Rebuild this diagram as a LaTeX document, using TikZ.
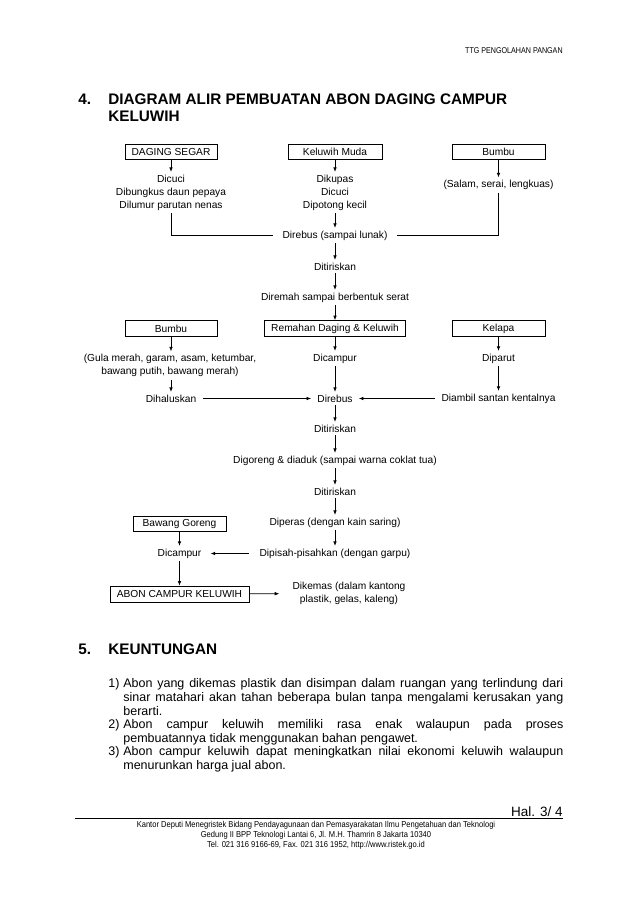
\documentclass[tikz,border=0pt]{standalone}
\usepackage{fontspec}
\setmainfont{Liberation Sans}
\newfontfamily\narrowfont[FakeStretch=0.85]{Liberation Sans}
\newfontfamily\footnarrow[FakeStretch=0.88]{Liberation Sans}
\usetikzlibrary{arrows.meta,positioning}

\newcommand{\flowfont}{\fontsize{10.2}{13}\selectfont}
\newcommand{\bodyfont}{\fontsize{12.5}{13.6}\selectfont}
\newcommand{\headfont}{\bfseries\fontsize{15.3}{17}\selectfont}
\newcommand{\runfont}{\narrowfont\fontsize{8.4}{10}\selectfont}
\newcommand{\footfont}{\footnarrow\fontsize{8.6}{10.2}\selectfont}
\newcommand{\itemno}[1]{\makebox[15pt][l]{#1}}

\begin{document}
\begin{tikzpicture}[x=1pt,y=-1pt,->,>={Latex[length=4.5pt,width=3.6pt]},line width=0.7pt,node distance=31pt]
    \tikzstyle{stage}=[font=\flowfont, align=center, inner xsep=2pt, inner ysep=2.5pt]
    \tikzstyle{item}=[font=\flowfont, draw, minimum width=92pt, minimum height=15pt, inner sep=0pt]
    \tikzstyle{across}=[shorten >=4pt, shorten <=4pt]

    \useasboundingbox (0,0) rectangle (638,903);

    % page head and titles
    \node[anchor=base east, font=\runfont, inner sep=0pt] (running) at (563,53.5) {TTG PENGOLAHAN PANGAN};
    \node[anchor=base west, font=\headfont, inner sep=0pt] (num4) at (78,104) {4.};
    \node[anchor=north west, font=\headfont, align=left, inner sep=0pt] (title4) at (108,93) {DIAGRAM ALIR PEMBUATAN ABON DAGING CAMPUR\\KELUWIH};

    % first part of the flow
    \node[item]                         (segar)  at (171,151.5) {DAGING SEGAR};
    \node[item, minimum width=94pt]     (muda)   at (335,151.5) {Keluwih Muda};
    \node[item, minimum width=93pt]     (bumbu)  at (498.5,151.5) {Bumbu};
    \node[stage]   (cuci)  at (171,192.5) {Dicuci\\Dibungkus daun pepaya\\Dilumur parutan nenas};
    \node[stage]   (kupas) at (335,192.5) {Dikupas\\Dicuci\\Dipotong kecil};
    \node[stage]   (salam) at (498.5,185) {(Salam, serai, lengkuas)};
    \node[stage]   (rebus) [below of=kupas, node distance=43pt] {Direbus (sampai lunak)};
    \node[stage]   (tiris) [below of=rebus] {Ditiriskan};
    \node[stage]   (remah) [below of=tiris] {Diremah sampai berbentuk serat};

    % second part
    \node[item, minimum width=141pt, minimum height=16pt] (remahan) [below of=remah] {Remahan Daging \& Keluwih};
    \node[item, minimum height=16pt]    (bumbuB) at (171,328.5) {Bumbu};
    \node[item, minimum width=93pt, minimum height=16pt] (kelapa) at (498.5,328.5) {Kelapa};
    \node[stage]   (gula)   at (170,365.5) {(Gula merah, garam, asam, ketumbar,\\bawang putih, bawang merah)};
    \node[stage]   (campur) [below of=remahan, node distance=30pt] {Dicampur};
    \node[stage]   (parut)  at (498.5,358.5) {Diparut};
    \node[stage]   (rebusB) [below of=campur, node distance=40pt] {Direbus};
    \node[stage]   (halus)  at (171,398.5) {Dihaluskan};
    \node[stage]   (santan) at (498.5,398.5) {Diambil santan kentalnya};
    \node[stage]   (tirisB) [below of=rebusB, node distance=30pt] {Ditiriskan};
    \node[stage]   (goreng) [below of=tirisB, node distance=32pt] {Digoreng \& diaduk (sampai warna coklat tua)};
    \node[stage]   (tirisC) [below of=goreng] {Ditiriskan};
    \node[stage]   (peras)  [below of=tirisC] {Diperas (dengan kain saring)};
    \node[stage]   (pisah)  [below of=peras] {Dipisah-pisahkan (dengan garpu)};

    % last part
    \node[item, minimum width=93pt]     (bawang) at (179.5,523.5) {Bawang Goreng};
    \node[stage]   (campurB) at (179.5,553.5) {Dicampur};
    \node[item, minimum width=139pt, minimum height=16pt] (abon) at (179.5,594) {ABON CAMPUR KELUWIH};
    \node[stage]   (kemas)  at (349,593.5) {Dikemas (dalam kantong\\plastik, gelas, kaleng)};

    \path (segar) edge (cuci);
    \path (muda) edge (kupas);
    \path (bumbu) edge (salam);
    \path (kupas) edge (rebus);
    \draw[-, shorten >=7pt] (cuci) |- (rebus);
    \draw[-, shorten >=7pt] (salam) |- (rebus);
    \path (rebus) edge (tiris);
    \path (tiris) edge (remah);
    \path (remah) edge (remahan);
    \path (bumbuB) edge (bumbuB |- gula.north);
    \path (remahan) edge (campur);
    \path (kelapa) edge (parut);
    \path (bumbuB |- gula.south) edge (halus);
    \path (campur) edge (rebusB);
    \path (parut) edge (santan);
    \path (halus) edge[across] (rebusB);
    \path (santan) edge[across] (rebusB);
    \path (rebusB) edge (tirisB);
    \path (tirisB) edge (goreng);
    \path (goreng) edge (tirisC);
    \path (tirisC) edge (peras);
    \path (peras) edge (pisah);
    \path (bawang) edge (campurB);
    \path (pisah) edge[shorten <=8pt, shorten >=7pt] (campurB);
    \path (campurB) edge (abon);
    \path (abon) edge[shorten >=11pt] (kemas);

    % advantages
    \node[anchor=base west, font=\headfont, inner sep=0pt] (num5) at (78,654) {5.};
    \node[anchor=base west, font=\headfont, inner sep=0pt] (title5) at (108,654) {KEUNTUNGAN};
    \node[anchor=north west, text width=455pt, align=justify, font=\bodyfont, inner sep=0pt] (gains) at (108,678.5) {%
      \parindent=0pt
      \hangindent=15pt\hangafter=1 \itemno{1)}Abon yang dikemas plastik dan disimpan dalam ruangan yang terlindung dari\linebreak sinar matahari akan tahan beberapa bulan tanpa mengalami kerusakan yang\linebreak berarti.\par
      \hangindent=15pt\hangafter=1 \itemno{2)}Abon campur keluwih memiliki rasa enak walaupun pada proses\linebreak pembuatannya tidak menggunakan bahan pengawet.\par
      \hangindent=15pt\hangafter=1 \itemno{3)}Abon campur keluwih dapat meningkatkan nilai ekonomi keluwih walaupun\linebreak menurunkan harga jual abon.\par};

    % page foot
    \node[anchor=base east, font=\fontsize{13.5}{15}\selectfont, inner sep=0pt] (page) at (563,816) {Hal. 3/ 4};
    \draw[-, line width=0.8pt] (75,818.5) -- (563,818.5);
    \node[anchor=north, align=center, font=\footfont, inner sep=0pt] (office) at (316,820.5) {Kantor Deputi Menegristek Bidang Pendayagunaan dan Pemasyarakatan Ilmu Pengetahuan dan Teknologi\\Gedung II BPP Teknologi Lantai 6, Jl. M.H. Thamrin 8 Jakarta 10340\\Tel. 021 316 9166-69, Fax. 021 316 1952, http://www.ristek.go.id};

  \end{tikzpicture}
\end{document}
